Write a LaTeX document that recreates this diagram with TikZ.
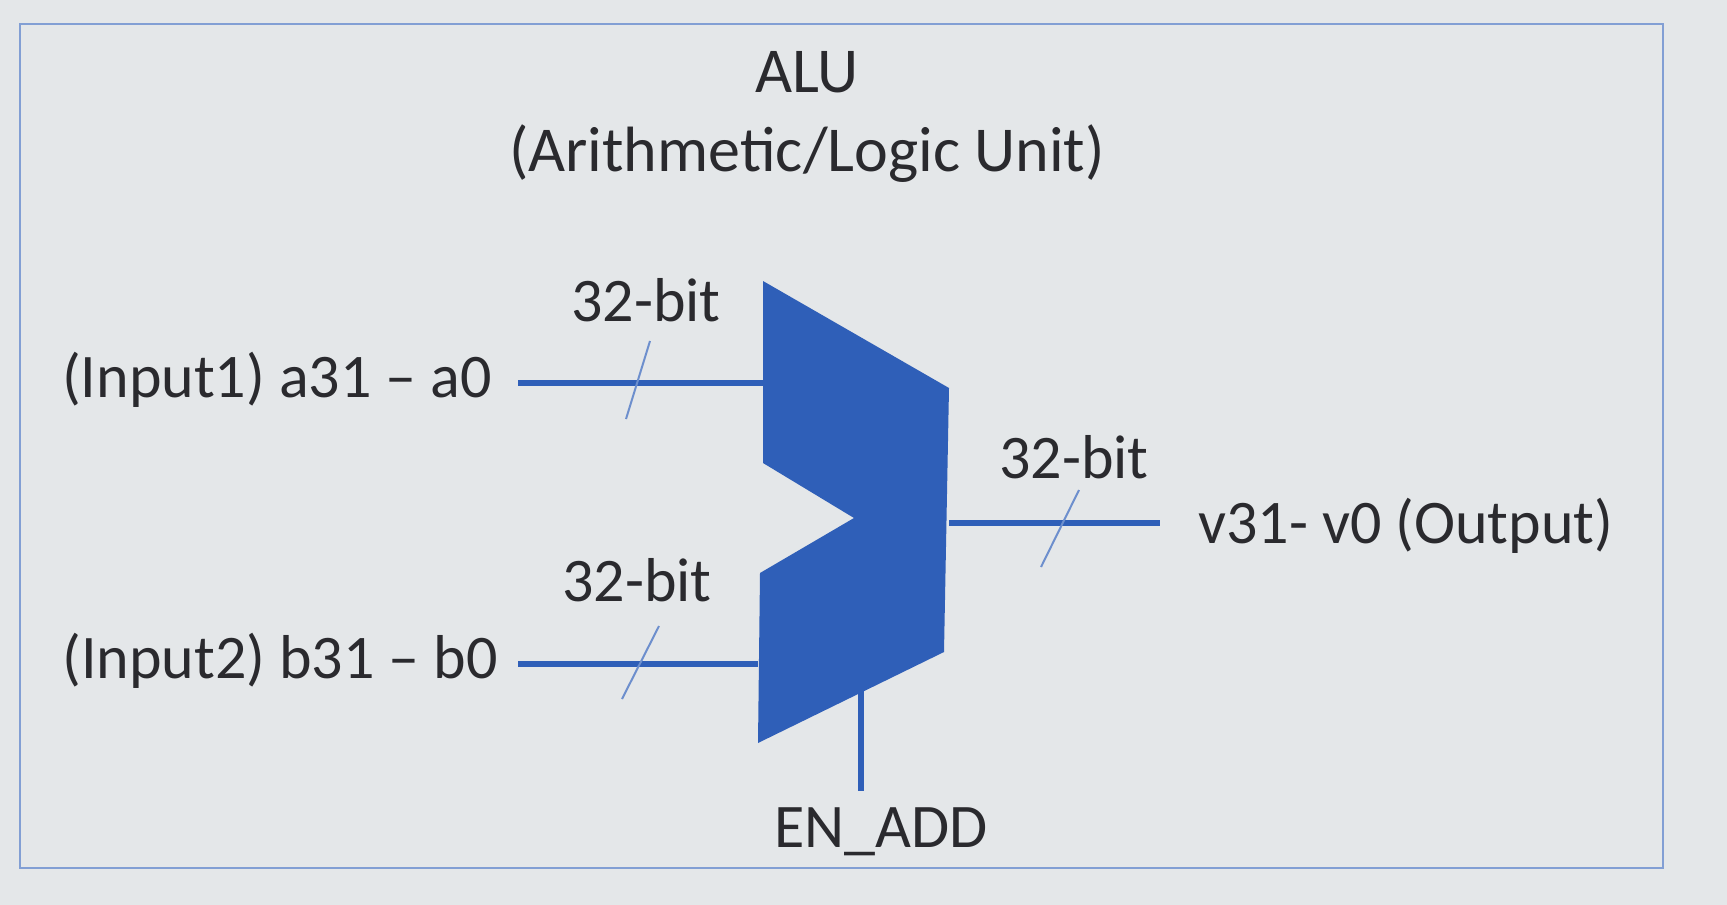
\documentclass[tikz,border=0pt]{standalone}
\usepackage{fontspec}
\setmainfont{Carlito}
\definecolor{bg}{HTML}{E4E7E9}
\definecolor{alublue}{HTML}{2F5FB8}
\definecolor{txt}{HTML}{2A2A2E}
\begin{document}
\begin{tikzpicture}[x=1pt,y=-1pt,
  wire/.style={draw=alublue,line width=6pt},
  slash/.style={draw=alublue!70,line width=2pt},
  lbl/.style={text=txt,font=\fontsize{62}{72}\selectfont,inner sep=0pt},
  ttl/.style={text=txt,font=\fontsize{64}{74}\selectfont,inner sep=0pt}]
\useasboundingbox (0,0) rectangle (1727,905);
\fill[bg] (0,0) rectangle (1727,905);
\draw[draw=alublue!60,line width=2pt] (20,24) rectangle (1663,868);
\node[ttl] (t1) at (807,72) {ALU};
\node[ttl] (t2) at (807,154) {(Arithmetic/Logic Unit)};
\fill[alublue] (763,281) -- (949,388) -- (944,652) -- (758,743) -- (760,573) -- (854,518) -- (763,463) -- cycle;
\coordinate (in1) at (763,383);
\coordinate (in2) at (758,664);
\coordinate (out) at (949,523);
\coordinate (en) at (861,680);
\node[lbl,anchor=east] (a) at (492,380) {(Input1) a31 -- a0};
\node[lbl,anchor=east] (b) at (498,661) {(Input2) b31 -- b0};
\node[lbl,anchor=west] (v) at (1198,526) {v31- v0 (Output)};
\node[lbl] (en_l) at (881,832) {EN\_ADD};
\node[lbl] (w1) at (646,300) {32-bit};
\node[lbl] (w2) at (637,580) {32-bit};
\node[lbl] (w3) at (1074,457) {32-bit};
\coordinate (a1) at (518,383);
\coordinate (b1) at (518,664);
\coordinate (o1) at (1160,523);
\coordinate (e1) at (861,791);
\draw[wire] (a1) -- (in1);
\draw[wire] (b1) -- (in2);
\draw[wire] (out) -- (o1);
\draw[wire] (en) -- (e1);
\draw[slash] (650,341) -- (626,419);
\draw[slash] (659,626) -- (622,699);
\draw[slash] (1079,490) -- (1041,567);
\end{tikzpicture}
\end{document}
